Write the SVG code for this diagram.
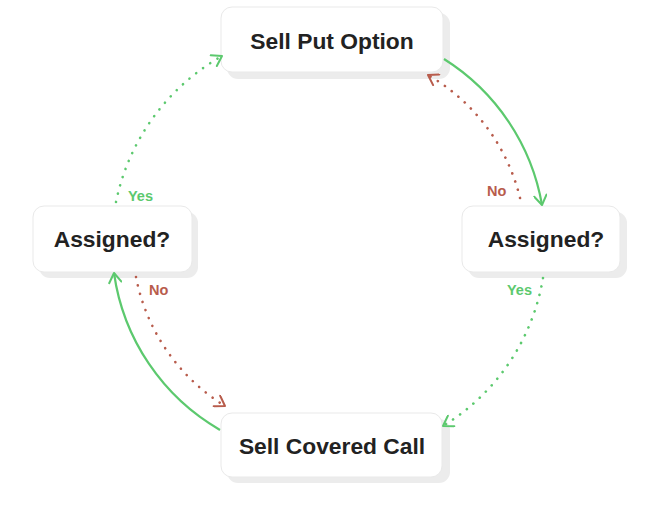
<svg xmlns="http://www.w3.org/2000/svg" width="649" height="512" viewBox="0 0 649 512">
<style>
.shadow{fill:#ececec}
.box{fill:#fff;stroke:#e9e9e9;stroke-width:1}
.t{font-family:"Liberation Sans",Arial,sans-serif;font-weight:bold;font-size:22.8px;fill:#222;text-anchor:middle}
.lbl{font-family:"Liberation Sans",Arial,sans-serif;font-weight:bold;font-size:14.5px}
.g{fill:#5cc96e}
.r{fill:#b85c4c}
.solid{fill:none;stroke:#5cc96e;stroke-width:2.2}
.dotg{fill:none;stroke:#5cc96e;stroke-width:2.6;stroke-linecap:round;stroke-dasharray:0.1 8.5}
.dotr{fill:none;stroke:#b85c4c;stroke-width:2.6;stroke-linecap:round;stroke-dasharray:0.1 8.5}
</style>
<defs>
<marker id="ag" viewBox="0 0 14 14" refX="12" refY="7" markerWidth="14" markerHeight="14" markerUnits="userSpaceOnUse" orient="auto">
<path d="M2.5,0.8 L12,7 L2.5,13.2" fill="none" stroke="#5cc96e" stroke-width="2" stroke-linecap="round" stroke-linejoin="round"/>
</marker>
<marker id="ar" viewBox="0 0 14 14" refX="12" refY="7" markerWidth="14" markerHeight="14" markerUnits="userSpaceOnUse" orient="auto">
<path d="M2.5,0.8 L12,7 L2.5,13.2" fill="none" stroke="#b85c4c" stroke-width="2" stroke-linecap="round" stroke-linejoin="round"/>
</marker>
</defs>
<rect width="649" height="512" fill="#fff"/>
<g id="sell-put">
<rect class="shadow" x="227" y="13" width="223" height="66" rx="11"/>
<rect class="box" x="221" y="7" width="222" height="65" rx="11"/>
<text class="t" x="332" y="49">Sell Put Option</text>
</g>
<g id="assigned-right">
<rect class="shadow" x="468" y="212" width="159" height="66" rx="11"/>
<rect class="box" x="462" y="206" width="158" height="66" rx="11"/>
<text class="t" x="546" y="247">Assigned?</text>
</g>
<g id="assigned-left">
<rect class="shadow" x="39" y="212" width="159" height="66" rx="11"/>
<rect class="box" x="33" y="206" width="159" height="66" rx="11"/>
<text class="t" x="112" y="247">Assigned?</text>
</g>
<g id="sell-call">
<rect class="shadow" x="227" y="419" width="223" height="64" rx="11"/>
<rect class="box" x="221" y="413" width="221" height="64" rx="11"/>
<text class="t" x="332" y="454">Sell Covered Call</text>
</g>
<g id="connectors">
<path class="solid" d="M444,59 A216,216 0 0,1 542,205" marker-end="url(#ag)"/>
<path class="dotr" d="M520,198 A195,195 0 0,0 428,75" marker-end="url(#ar)"/>
<path class="dotg" d="M543,278 A215,215 0 0,1 443,426" marker-end="url(#ag)"/>
<path class="solid" d="M220,430 A216,216 0 0,1 114,273" marker-end="url(#ag)"/>
<path class="dotr" d="M136,277 A195,195 0 0,0 225,406" marker-end="url(#ar)"/>
<path class="dotg" d="M116,202 A218,218 0 0,1 222,56" marker-end="url(#ag)"/>
<text class="lbl r" x="487" y="196">No</text>
<text class="lbl g" x="507" y="295">Yes</text>
<text class="lbl g" x="128" y="201">Yes</text>
<text class="lbl r" x="149" y="295">No</text>
</g>
</svg>
